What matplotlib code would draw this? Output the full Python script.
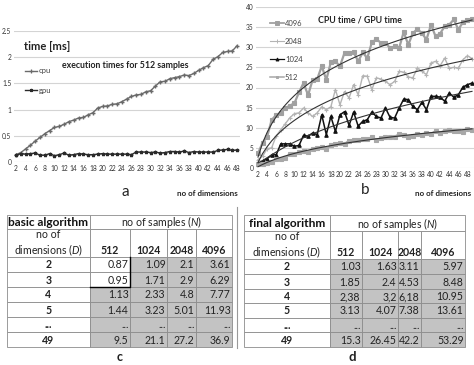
import numpy as np
import matplotlib
matplotlib.use('Agg')
import matplotlib.pyplot as plt
from matplotlib.patches import Rectangle

plt.rcParams['font.family'] = ['Lato', 'DejaVu Sans']
plt.rcParams['mathtext.fontset'] = 'custom'
plt.rcParams['mathtext.rm'] = 'Lato'
plt.rcParams['mathtext.it'] = 'Lato:italic'

# --- chart a: execution times for 512 samples ---
dims_a = list(range(2, 49))
cpu = [0.14, 0.18, 0.25, 0.32, 0.40, 0.47, 0.54, 0.60, 0.66, 0.68, 0.72, 0.77, 0.80, 0.84,
       0.85, 0.90, 0.94, 1.03, 1.06, 1.07, 1.10, 1.11, 1.15, 1.20, 1.25, 1.28, 1.29, 1.34,
       1.36, 1.45, 1.53, 1.54, 1.59, 1.61, 1.63, 1.66, 1.65, 1.69, 1.75, 1.80, 1.84, 1.96,
       2.01, 2.09, 2.11, 2.12, 2.22]
gpu = [0.13, 0.16, 0.15, 0.16, 0.17, 0.13, 0.13, 0.16, 0.12, 0.14, 0.17, 0.13, 0.14, 0.16,
       0.15, 0.14, 0.14, 0.15, 0.16, 0.15, 0.15, 0.15, 0.15, 0.15, 0.14, 0.19, 0.19, 0.19,
       0.18, 0.19, 0.17, 0.18, 0.20, 0.20, 0.19, 0.21, 0.18, 0.20, 0.19, 0.19, 0.19, 0.19,
       0.22, 0.23, 0.24, 0.22, 0.23]

# --- chart b: CPU time / GPU time ---
dims_b = list(range(2, 50))
r4096 = [3.61, 6.29, 7.77, 11.93, 13.2, 13.7, 14.9, 15.5, 16.1, 18.8, 21.1, 18.1, 21.9, 22.1,
         25.3, 21.9, 26.3, 26.5, 25.3, 28.6, 28.6, 28.8, 26.5, 28.7, 27.3, 31.2, 32.0, 31.1,
         31.1, 29.8, 30.2, 29.8, 33.8, 30.6, 33.5, 34.5, 33.5, 31.9, 35.6, 32.7, 33.4, 35.2,
         35.6, 36.9, 34.4, 36.2, 36.7, 36.9]
r2048 = [2.1, 2.9, 4.8, 5.01, 8.0, 9.5, 11.0, 12.5, 13.5, 13.7, 14.9, 13.7, 12.8, 13.7,
         15.2, 14.5, 15.2, 19.5, 15.7, 19.0, 17.4, 20.7, 18.2, 22.9, 22.8, 19.5, 22.4, 22.1,
         21.5, 20.7, 21.5, 24.0, 23.8, 22.6, 22.4, 24.8, 24.0, 23.2, 26.1, 26.5, 25.4, 27.3,
         24.8, 25.0, 24.8, 26.9, 27.9, 27.2]
r1024 = [1.09, 1.71, 2.33, 3.23, 3.3, 6.0, 6.0, 6.0, 5.4, 5.6, 8.1, 7.9, 8.7, 8.3,
         13.2, 8.3, 12.8, 9.1, 13.2, 14.0, 10.6, 13.9, 10.4, 11.6, 12.0, 13.9, 12.8, 12.4,
         14.9, 12.6, 12.4, 14.9, 17.1, 17.0, 15.3, 14.5, 16.3, 14.5, 17.8, 17.8, 17.6, 16.6,
         18.6, 17.6, 18.2, 20.1, 20.7, 21.1]
r512 = [0.87, 0.95, 1.13, 1.44, 2.2, 2.3, 2.5, 3.5, 3.4, 4.0, 4.2, 4.0, 4.8, 5.0,
        5.2, 4.8, 5.6, 6.0, 6.2, 6.0, 6.8, 7.0, 7.0, 7.3, 7.2, 7.6, 7.0, 7.4,
        7.8, 7.6, 7.8, 8.4, 8.3, 7.8, 7.9, 8.4, 8.2, 8.7, 8.5, 9.2, 8.8, 9.3,
        9.4, 9.3, 9.2, 9.0, 9.6, 9.5]

# --- tables c and d ---
row_labels = ['2', '3', '4', '5', '...', '49']
col_labels = ['512', '1024', '2048', '4096']
basic_vals = [['0.87', '1.09', '2.1', '3.61'],
              ['0.95', '1.71', '2.9', '6.29'],
              ['1.13', '2.33', '4.8', '7.77'],
              ['1.44', '3.23', '5.01', '11.93'],
              ['...', '...', '...', '...'],
              ['9.5', '21.1', '27.2', '36.9']]
final_vals = [['1.03', '1.63', '3.11', '5.97'],
              ['1.85', '2.4', '4.53', '8.48'],
              ['2,38', '3,2', '6,18', '10.95'],
              ['3.13', '4.07', '7.38', '13.61'],
              ['...', '...', '...', '...'],
              ['15.3', '26.45', '42.2', '53.29']]

W, H = 474, 365
fig = plt.figure(figsize=(W / 100, H / 100), dpi=100)


def px_axes(x0, y0, x1, y1):
    return fig.add_axes([x0 / W, 1 - y1 / H, (x1 - x0) / W, (y1 - y0) / H])


def style(ax, ticks_y):
    for s in ax.spines.values():
        s.set_visible(False)
    ax.set_yticks(ticks_y)
    ax.grid(axis='y', color='#d4d4d4', lw=0.8)
    ax.set_axisbelow(True)
    ax.tick_params(length=0, labelsize=4.8, colors='#333333', pad=2)
    ax.set_xticks(range(2, 49, 2))


# chart a
axa = px_axes(14, 31, 240, 162)
axa.plot(dims_a, cpu, color='#6a6a6a', lw=1.0, marker='+', ms=3, mew=1.0)
axa.plot(dims_a, gpu, color='#2a2a2a', lw=1.0, marker='*', ms=2.5)
axa.set_xlim(1.58, 48.6)
axa.set_ylim(0, 2.5)
style(axa, [0, 0.5, 1, 1.5, 2, 2.5])
axa.set_yticklabels(['0', '0.5', '1', '1.5', '2', '2.5'])

# chart b
axb = px_axes(256, 7, 474, 168)
colors_b = ['#a0a0a0', '#b4b4b4', '#111111', '#a8a8a8']
series_b = [r4096, r2048, r1024, r512]
markers_b = [('s', 2.8, 1.6), ('+', 3.0, 1.0), ('^', 2.5, 1.1), ('s', 2.3, 1.4)]
xb = np.array(dims_b)
for ys, c, (m, ms, lw) in zip(series_b, colors_b, markers_b):
    axb.plot(dims_b, ys, color=c, lw=lw, marker=m, ms=ms, mew=0.8)
for ys in series_b:
    coef = np.polyfit(np.log(xb), ys, 2)
    axb.plot(xb, np.polyval(coef, np.log(xb)), color='#333333', lw=0.8)
axb.set_xlim(1.56, 49.44)
axb.set_ylim(0, 40)
style(axb, range(0, 41, 5))

# overlay for text and tables
ov = fig.add_axes([0, 0, 1, 1])
ov.set_xlim(0, W)
ov.set_ylim(H, 0)
ov.axis('off')

# chart a texts
ov.text(24, 46, 'time [ms]', fontsize=8, fontweight='bold', color='#222222', va='center')
ov.text(62, 65, 'execution times for 512 samples', fontsize=6.3, fontweight='bold',
        color='#222222', va='center')
ov.plot([25, 37], [71, 71], color='#6a6a6a', lw=1)
ov.plot([31], [71], color='#6a6a6a', marker='+', ms=2.5, mew=0.9)
ov.text(38.5, 71, 'cpu', fontsize=5.5, color='#444444', va='center')
ov.plot([25, 37], [90, 90], color='#2a2a2a', lw=1)
ov.plot([31], [90], color='#2a2a2a', marker='*', ms=2.2)
ov.text(38.5, 90, 'gpu', fontsize=5.5, color='#444444', va='center')
ov.text(125, 192, 'a', fontsize=11, color='#222222', ha='center', va='center')
ov.text(238, 194, 'no of dimensions', fontsize=5.8, fontweight='bold', color='#222222',
        ha='right', va='center')

# chart b texts
ov.text(318, 20, 'CPU time / GPU time', fontsize=6.3, fontweight='bold', color='#222222',
        va='center')
leg_y = [23, 41, 59, 77]
for lab, c, (m, ms, lw), y in zip(col_labels[::-1], colors_b, markers_b, leg_y):
    ov.plot([270, 284], [y, y], color=c, lw=lw * 0.8)
    ov.plot([277], [y], color=c, marker=m, ms=ms * 0.85, mew=0.7)
    ov.text(285, y, lab, fontsize=5.5, color='#444444', va='center')
ov.text(365, 190, 'b', fontsize=11, color='#222222', ha='center', va='center')
ov.text(471, 194, 'no of dimesions', fontsize=5.8, fontweight='bold', color='#222222',
        ha='right', va='center')

# separator line between panels
ov.plot([237, 237], [207, 348], color='#9a9a9a', lw=0.8)


def draw_table(xs, ys, title, vals, white_cells):
    edge = '#8c8c8c'
    gray = '#c3c3c3'
    fs = 7.6
    # data cells
    for i, row in enumerate(vals):
        y0, y1 = ys[i + 2], ys[i + 3]
        ov.add_patch(Rectangle((xs[0], y0), xs[1] - xs[0], y1 - y0, fc='white', ec=edge, lw=0.6))
        ov.text((xs[0] + xs[1]) / 2, (y0 + y1) / 2 + 0.5, row_labels[i], fontsize=fs,
                fontweight='bold', color='#222222', ha='center', va='center')
        for j, v in enumerate(row):
            fc = 'white' if (i, j) in white_cells else gray
            ov.add_patch(Rectangle((xs[j + 1], y0), xs[j + 2] - xs[j + 1], y1 - y0,
                                   fc=fc, ec=edge, lw=0.6))
            ov.text(xs[j + 2] - 1.5, (y0 + y1) / 2 + 0.5, v, fontsize=fs, color='#222222',
                    ha='right', va='center')
    # header
    ov.add_patch(Rectangle((xs[0], ys[0]), xs[1] - xs[0], ys[1] - ys[0], fc='white', ec=edge, lw=0.6))
    ov.add_patch(Rectangle((xs[1], ys[0]), xs[-1] - xs[1], ys[1] - ys[0], fc='white', ec=edge, lw=0.6))
    ov.text((xs[0] + xs[1]) / 2, (ys[0] + ys[1]) / 2 + 0.5, title, fontsize=8.6,
            fontweight='bold', color='#111111', ha='center', va='center')
    ov.text((xs[1] + xs[-1]) / 2, (ys[0] + ys[1]) / 2 + 0.5, r'no of samples ($\mathit{N}$)',
            fontsize=fs, color='#222222', ha='center', va='center')
    ov.add_patch(Rectangle((xs[0], ys[1]), xs[1] - xs[0], ys[2] - ys[1], fc='white', ec=edge, lw=0.6))
    ov.text((xs[0] + xs[1]) / 2, (ys[1] + ys[2]) / 2 + 0.5, 'no of\ndimensions ($\\mathit{D}$)',
            fontsize=fs, color='#222222', ha='center', va='center', linespacing=1.2)
    for j, lab in enumerate(col_labels):
        ov.add_patch(Rectangle((xs[j + 1], ys[1]), xs[j + 2] - xs[j + 1], ys[2] - ys[1],
                               fc='white', ec=edge, lw=0.6))
        ov.text((xs[j + 1] + xs[j + 2]) / 2, ys[2] - 6.5, lab, fontsize=fs, fontweight='bold',
                color='#222222', ha='center', va='center')


xs_c = [7, 90, 130, 167, 196, 232]
ys_c = [215, 229, 257, 272, 287, 302, 317, 332, 347]
draw_table(xs_c, ys_c, 'basic algorithm', basic_vals, {(0, 0), (1, 0)})
ov.plot([xs_c[1], xs_c[2], xs_c[2]], [ys_c[4], ys_c[4], ys_c[2]], color='black', lw=1.0)
ov.text(120, 357, 'c', fontsize=9, fontweight='bold', color='#222222', ha='center', va='center')

xs_d = [244, 330, 362, 398, 421, 465]
ys_d = [215, 231, 259, 274, 289, 303, 318, 332, 347]
draw_table(xs_d, ys_d, 'final algorithm', final_vals, set())
ov.text(352, 357, 'd', fontsize=9.5, fontweight='bold', color='#222222', ha='center', va='center')

fig.savefig('out.png', dpi=100)
